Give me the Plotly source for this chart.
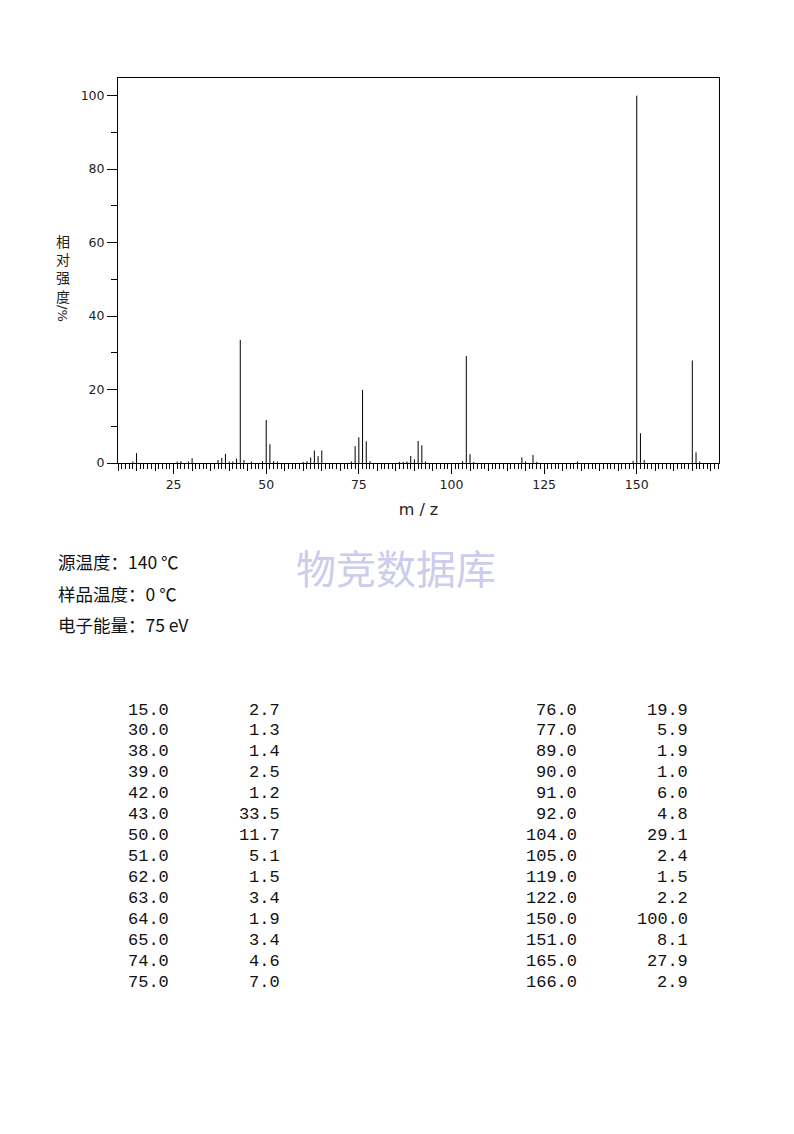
import plotly.graph_objects as go

# Listed peaks (m/z, relative intensity %)
mz = [15, 30, 38, 39, 42, 43, 50, 51, 62, 63, 64, 65, 74, 75,
      76, 77, 89, 90, 91, 92, 104, 105, 119, 122, 150, 151, 165, 166]
inten = [2.7, 1.3, 1.4, 2.5, 1.2, 33.5, 11.7, 5.1, 1.5, 3.4, 1.9, 3.4, 4.6, 7.0,
         19.9, 5.9, 1.9, 1.0, 6.0, 4.8, 29.1, 2.4, 1.5, 2.2, 100.0, 8.1, 27.9, 2.9]

# Small unlisted peaks
minor_mz = [14, 26, 27, 29, 37, 40, 41, 44, 46, 49, 52, 53, 60, 61, 73, 78,
            86, 87, 88, 93, 103, 106, 120, 123, 134, 149, 152, 167]
minor_int = [0.4, 0.4, 0.5, 0.4, 0.8, 0.4, 0.4, 0.8, 0.35, 0.5, 0.5, 0.4, 0.3, 0.5, 0.4, 0.5,
             0.3, 0.3, 0.4, 0.4, 0.5, 0.3, 0.4, 0.3, 0.4, 0.6, 0.8, 0.4]

info_lines = ["源温度：140 ℃", "样品温度：0 ℃", "电子能量：75 eV"]
y_title_chars = ["相", "对", "强", "度"]
watermark = "物竞数据库"

X_RANGE = [10, 172.2]
Y_RANGE = [0, 104.8]

def stems(xs, ys):
    sx, sy = [], []
    for a, b in zip(xs, ys):
        sx += [a, a, None]
        sy += [0, b, None]
    return sx, sy

fig = go.Figure()
sx, sy = stems(mz, inten)
fig.add_trace(go.Scatter(x=sx, y=sy, mode="lines", line=dict(color="black", width=1),
                         hoverinfo="skip", showlegend=False))
mx, my = stems(minor_mz, minor_int)
fig.add_trace(go.Scatter(x=mx, y=my, mode="lines", line=dict(color="black", width=1),
                         hoverinfo="skip", showlegend=False, xaxis="x2"))

# reference pixel -> paper helpers (plot area in reference: x 118..719, y 78..463)
L, R, T, B = 118, 719, 78, 463
OFF = 8  # page body margin
W, H = 794 - OFF, 1134 - OFF
def px(x):
    return (x - L) / (R - L)
def py(y):
    return (B - y) / (B - T)

ann = []
# Y axis title (stacked characters)
ann.append(dict(text="<br>".join(y_title_chars), x=px(63), y=py(268), xref="paper", yref="paper",
                showarrow=False, xanchor="center", yanchor="middle",
                font=dict(family="Noto Sans CJK SC", size=14, color="#222")))
ann.append(dict(text="/%", x=px(63), y=py(313), xref="paper", yref="paper",
                showarrow=False, xanchor="center", yanchor="middle", textangle=90,
                font=dict(family="DejaVu Sans", size=13, color="#222")))

# Info lines
for t, yc in zip(info_lines, [561, 593, 624]):
    ann.append(dict(text=t, x=px(56), y=py(yc), xref="paper", yref="paper",
                    showarrow=False, xanchor="left", yanchor="middle",
                    font=dict(family="Noto Sans CJK SC", size=17.5, color="#111")))

# Watermark
ann.append(dict(text=watermark, x=px(396), y=py(567), xref="paper", yref="paper",
                showarrow=False, xanchor="center", yanchor="middle",
                font=dict(family="Noto Sans CJK SC", size=40, color="rgb(204,204,236)")))

# Peak table
half = len(mz) // 2
row_y0, row_dy = 710, 20.95
cols = [(mz[:half], inten[:half], 171, 282), (mz[half:], inten[half:], 579, 690)]
for ms, vs, xm, xv in cols:
    for i, (m, v) in enumerate(zip(ms, vs)):
        yc = row_y0 + i * row_dy
        ann.append(dict(text=f"{m:.1f}", x=px(xm), y=py(yc), xref="paper", yref="paper",
                        showarrow=False, xanchor="right", yanchor="middle",
                        font=dict(family="Liberation Mono", size=17, color="#111")))
        ann.append(dict(text=f"{v:.1f}", x=px(xv), y=py(yc), xref="paper", yref="paper",
                        showarrow=False, xanchor="right", yanchor="middle",
                        font=dict(family="Liberation Mono", size=17, color="#111")))

tickfont = dict(family="DejaVu Sans", size=12.5, color="#222")
fig.update_layout(
    width=W, height=H,
    margin=dict(l=L - OFF, r=W - (R - OFF), t=T - OFF, b=H - (B - OFF), pad=0),
    paper_bgcolor="white", plot_bgcolor="white",
    annotations=ann,
    xaxis=dict(range=X_RANGE, tick0=0, dtick=25, ticks="outside", ticklen=10,
               tickcolor="black", tickwidth=1, showline=True, linecolor="black",
               linewidth=1, mirror=True, showgrid=False, zeroline=False,
               tickfont=tickfont,
               minor=dict(dtick=1, tick0=0, ticks="outside", ticklen=5,
                          tickcolor="black", tickwidth=1, showgrid=False),
               title=dict(text="m / z", font=dict(family="DejaVu Sans", size=16, color="#222"),
                          standoff=12)),
    xaxis2=dict(range=X_RANGE, overlaying="x", side="bottom", anchor="y", tick0=0, dtick=5,
                ticks="outside", ticklen=7, tickcolor="black", tickwidth=1,
                showticklabels=False, showline=False, showgrid=False, zeroline=False),
    yaxis=dict(range=Y_RANGE, tick0=0, dtick=20, ticks="outside", ticklen=10,
               tickcolor="black", tickwidth=1, showline=True, linecolor="black",
               linewidth=1, mirror=True, showgrid=False, zeroline=False,
               tickfont=tickfont,
               minor=dict(dtick=10, tick0=0, ticks="outside", ticklen=6,
                          tickcolor="black", tickwidth=1, showgrid=False)),
)

fig.write_html("out.html")
